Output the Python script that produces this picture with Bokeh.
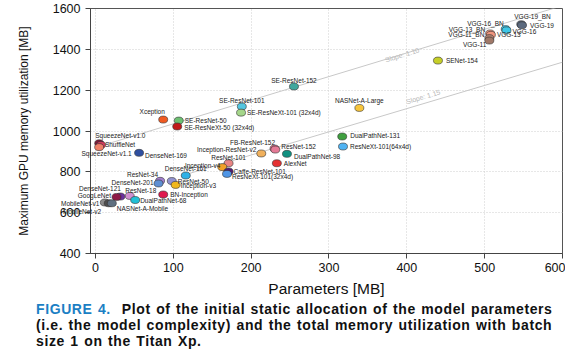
from bokeh.plotting import figure
from bokeh.models import ColumnDataSource, LabelSet, Label, Range1d, FixedTicker, Div
from bokeh.layouts import column
from bokeh.core.properties import value
from bokeh.embed import file_html
from bokeh.resources import INLINE
import math

try:
    from bokeh.models import HTMLLabelSet as OuterLabelSet
except Exception:
    OuterLabelSet = LabelSet

# ---- data ----
models = ["VGG-19_BN", "VGG-19", "VGG-16_BN", "VGG-16", "VGG-13_BN", "VGG-13",
          "VGG-11_BN", "VGG-11", "SENet-154", "SE-ResNet-152", "NASNet-A-Large",
          "SE-ResNet-101", "SE-ResNeXt-101 (32x4d)", "Xception", "SE-ResNet-50",
          "SE-ResNeXt-50 (32x4d)", "SqueezeNet-v1.0", "ShuffleNet", "SqueezeNet-v1.1",
          "DenseNet-169", "FB-ResNet-152", "ResNet-152", "Inception-ResNet-v2",
          "DualPathNet-98", "AlexNet", "ResNet-101", "Inception-v4", "Caffe-ResNet-101",
          "ResNeXt-101(32x4d)", "DualPathNet-131", "ResNeXt-101(64x4d)", "DenseNet-161",
          "ResNet-34", "DenseNet-201", "ResNet-50", "Inception-v3", "BN-Inception",
          "ResNet-18", "DenseNet-121", "GoogLeNet", "DualPathNet-68", "MobileNet-v1",
          "MobileNet-v2", "NASNet-A-Mobile"]
params_mb = [547, 548, 527, 528, 507, 508, 506, 506, 440, 255, 339,
             188, 187, 87, 107, 105, 4.8, 7, 4.7,
             56, 230, 231, 213, 246, 233, 171, 163, 171,
             169, 317, 318, 116, 83, 81, 98, 103, 87,
             44, 32, 27, 51, 12, 17, 21]
memory_mb = [1523, 1518, 1499, 1493, 1478, 1471, 1455, 1443, 1345, 1218, 1113,
             1120, 1090, 1056, 1051, 1022, 940, 932, 921,
             893, 914, 909, 890, 888, 842, 842, 823, 802,
             790, 973, 924, 782, 756, 743, 755, 736, 689,
             682, 679, 677, 662, 650, 646, 646]

# reference lines (endpoints)
slope_a_x = [5, 600]
slope_a_y = [925, 1614]
slope_b_x = [110, 600]
slope_b_y = [780, 1337]

x_ticks = [0, 100, 200, 300, 400, 500, 600]
y_ticks = [400, 600, 800, 1000, 1200, 1400, 1600]

caption_tag = "FIGURE 4."
caption_lines = ["Plot of the initial static allocation of the model parameters",
                 "(i.e. the model complexity) and the total memory utilization with batch",
                 "size 1 on the Titan Xp."]

# ---- styles ----
colors = ["#5b6a7e", "#5b6a7e", "#3ec6e6", "#3ec6e6", "#f0957e", "#f0957e",
          "#b08070", "#a07868", "#c6cf28", "#3fa79d", "#f7c53c",
          "#52c6e0", "#a5d68a", "#f05a22", "#6dbf72", "#c01a1a", "#7d1a3a",
          "#d03a5a", "#f08068", "#2f4fa0", "#e9708e", "#e47a96", "#f0b05c",
          "#119080", "#e53232", "#e88584", "#f2a028", "#4f1c72", "#4f96e6",
          "#3f9f3f", "#4fb2f2", "#2fb1e6", "#a07fcf", "#5e8fd2", "#9292cf",
          "#f0b81e", "#df1a4e", "#d08fcf", "#6c2f9f", "#8e1a48", "#22c0d6",
          "#8a8a8a", "#4e4e4e", "#5f6f80"]
# label placement: (align, dx, dy) in screen pixels, dy downward
placement = [("left", -7, -8), ("left", 8, 0), ("right", -2, -6), ("left", 6, 1),
             ("right", -5, -4), ("left", 6, 0), ("right", -5, -4), ("right", -3, 4),
             ("left", 8, 0), ("center", 0, -6), ("center", 0, -7),
             ("center", 0, -6), ("left", 6, 0), ("center", -11, -8), ("left", 6, 0),
             ("left", 7, 1), ("left", -4, -8), ("left", 4, 0), ("center", 8, 6),
             ("left", 6, 3), ("center", -22, -6), ("left", 6, -3), ("right", -5, -4),
             ("left", 7, 3), ("left", 7, 0), ("center", 0, -6), ("right", -2, -2),
             ("left", 5, 0), ("left", 5, 3), ("left", 8, -1), ("left", 7, 0),
             ("center", 0, -7), ("right", -2, -6), ("right", -5, -1), ("left", 6, 0),
             ("left", 5, 1), ("left", 7, 0), ("center", 11, -5), ("right", 1, -8),
             ("right", -5, -1), ("left", 5, 0), ("right", -5, 1), ("right", -7, 8),
             ("left", 5, 5)]
# labels that reach past the left edge of the plotting frame
outer = {"SqueezeNet-v1.1", "DenseNet-121", "GoogLeNet", "MobileNet-v1", "MobileNet-v2"}

FONT = "Liberation Sans"

FW, FH = 472, 245
BL, BR, BT, BB = 90, 3, 8, 40
X0, X1, Y0, Y1 = -6.4, 600, 400, 1600

p = figure(frame_width=FW, frame_height=FH, output_backend="svg", toolbar_location=None,
           x_range=Range1d(X0, X1), y_range=Range1d(Y0, Y1),
           min_border_left=BL, min_border_right=BR, min_border_top=BT, min_border_bottom=BB)
p.background_fill_color = "white"
p.border_fill_color = "white"
p.outline_line_color = "#555555"
p.outline_line_width = 1

for ax in (p.xaxis, p.yaxis):
    ax.major_label_text_font = FONT
    ax.major_label_text_font_size = "12.5px"
    ax.major_label_text_color = "#111111"
    ax.axis_label_text_font = FONT
    ax.axis_label_text_font_style = "normal"
    ax.axis_label_text_color = "#111111"
    ax.axis_line_color = "#444444"
    ax.major_tick_line_color = "#444444"
    ax.major_tick_out = 5
    ax.major_tick_in = 0
    ax.minor_tick_line_color = None

p.xaxis.ticker = FixedTicker(ticks=x_ticks)
p.yaxis.ticker = FixedTicker(ticks=y_ticks)
p.xaxis.axis_label = "Parameters [MB]"
p.yaxis.axis_label = "Maximum GPU memory utilization [MB]"
p.xaxis.axis_label_text_font_size = "15.5px"
p.yaxis.axis_label_text_font_size = "12px"
p.xaxis.major_label_standoff = 4
p.yaxis.major_label_standoff = 5
p.xaxis.axis_label_standoff = 5
p.yaxis.axis_label_standoff = 19

p.xgrid.grid_line_color = "#cfcfcf"
p.ygrid.grid_line_color = "#cfcfcf"
p.xgrid.grid_line_dash = "1 2"
p.ygrid.grid_line_dash = "1 2"

p.line(slope_a_x, slope_a_y, line_color="#c8c8c8", line_width=1)
p.line(slope_b_x, slope_b_y, line_color="#c8c8c8", line_width=1)

ang = math.atan(0.30)
p.add_layout(Label(x=394, y=1372, text="Slope: 1.10", angle=ang, text_align="center",
                   text_baseline="middle", text_font=FONT, text_font_size="7px",
                   text_color="#b8b8b8"))
p.add_layout(Label(x=421, y=1167, text="Slope: 1.15", angle=ang, text_align="center",
                   text_baseline="middle", text_font=FONT, text_font_size="7px",
                   text_color="#b8b8b8"))

src = ColumnDataSource(dict(x=params_mb, y=memory_mb, color=colors))
p.ellipse(x="x", y="y", width=9, height=7, width_units="screen", height_units="screen",
          source=src, fill_color="color", line_color="#333333", line_width=0.6)

for is_outer in (False, True):
    for al in ("left", "right", "center"):
        idx = [i for i, pl in enumerate(placement)
               if pl[0] == al and ((models[i] in outer) == is_outer)]
        if not idx:
            continue
        sub = ColumnDataSource(dict(
            x=[params_mb[i] for i in idx],
            y=[memory_mb[i] for i in idx],
            name=[models[i] for i in idx],
            dx=[placement[i][1] for i in idx],
            dy=[-placement[i][2] for i in idx],
        ))
        cls = OuterLabelSet if is_outer else LabelSet
        p.add_layout(cls(x="x", y="y", text="name", x_offset="dx", y_offset="dy",
                         source=sub, text_align=al, text_baseline="middle",
                         text_font=value(FONT), text_font_size=value("6.5px"),
                         text_color="#222222"))

CAP_STYLE = ("font-family:'Liberation Sans';font-weight:700;font-size:14px;"
             "letter-spacing:0.6px;word-spacing:1px;"
             "line-height:16px;height:16px;white-space:nowrap;")
caption = Div(
    text=(f"<div style=\"padding:2px 0 0 36px;color:#111\">"
          f"<div style=\"{CAP_STYLE}\"><span style='color:#1b7fc4'>{caption_tag}</span>"
          f"<span>&nbsp; {caption_lines[0]}</span></div>"
          f"<div style=\"{CAP_STYLE}\"><span>{caption_lines[1]}</span></div>"
          f"<div style=\"{CAP_STYLE}\"><span>{caption_lines[2]}</span></div>"
          f"</div>"),
    width=565, height=50, margin=(0, 0, 0, 0))

layout = column(p, caption, spacing=0)
open("out.html", "w").write(file_html(layout, INLINE))
